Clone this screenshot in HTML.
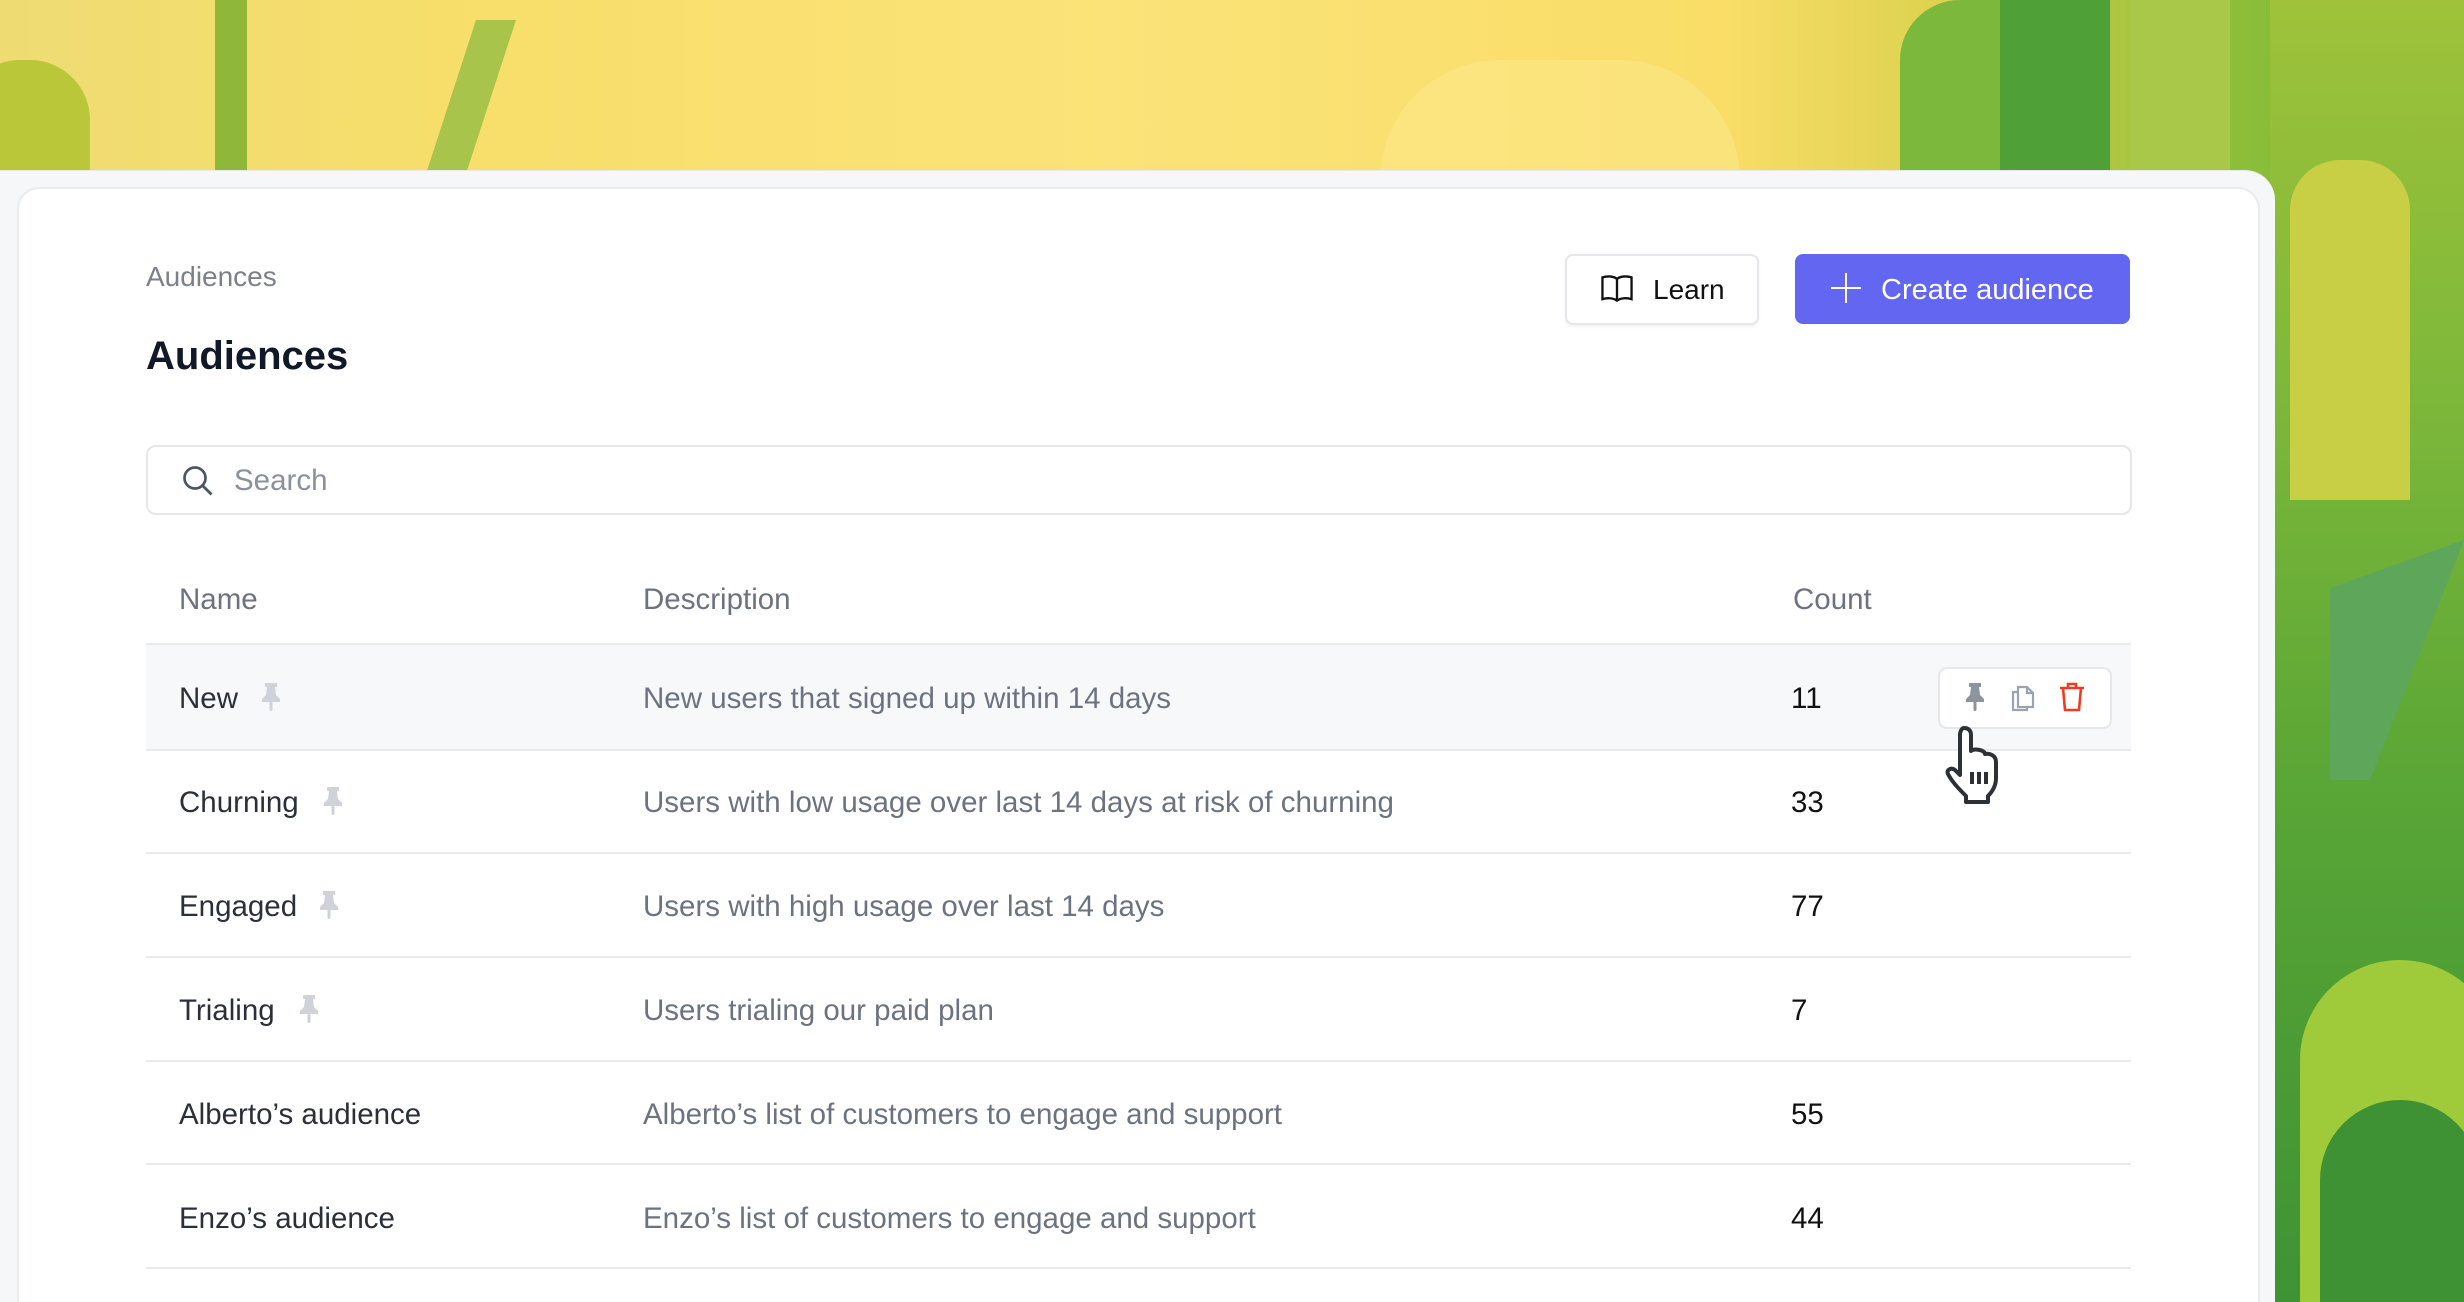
<!DOCTYPE html>
<html style="width:2464px;height:1302px;overflow:hidden"><head><meta charset="utf-8"><style>
*{margin:0;padding:0;box-sizing:border-box}
body{width:2464px;height:1302px;overflow:hidden;position:relative;font-family:"Liberation Sans",sans-serif;background:#f6f7f9}
.bg{position:absolute;left:0;top:0;width:2464px;height:1302px;background:linear-gradient(90deg,#eedc73 0%,#f8de6a 20%,#fbe379 45%,#f9dd67 70%,#d9d04c 80%,#8fbf3a 90%,#6fb53a 100%)}
.abs{position:absolute}
.t{position:absolute;font-size:29.5px;line-height:1;white-space:nowrap}
.row{position:absolute;left:146px;width:1985px;height:2px;background:#e8eaee}
.name{color:#2b2f38;left:179px}
.desc{color:#6b7280;left:643px}
.cnt{color:#111;left:1791px}
.pin{position:absolute;width:18px;height:28px}
</style></head><body>
<div class="bg"></div>
<div class="abs" style="left:-40px;top:60px;width:130px;height:260px;border-radius:60px 60px 0 0;background:#b9c738"></div>
<div class="abs" style="left:215px;top:0;width:32px;height:175px;background:#8fb83a"></div>
<div class="abs" style="left:450px;top:20px;width:40px;height:160px;background:#a9c44a;transform:skewX(-18deg)"></div>
<div class="abs" style="left:1380px;top:60px;width:360px;height:120px;border-radius:180px 180px 0 0;background:#fce685;opacity:.7"></div>
<div class="abs" style="left:1900px;top:0;width:200px;height:175px;background:#7bb83c;border-radius:60px 60px 0 0"></div>
<div class="abs" style="left:2000px;top:0;width:110px;height:175px;background:#4fa036"></div>
<div class="abs" style="left:2130px;top:0;width:100px;height:175px;background:#a9c84a"></div>
<div class="abs" style="left:2270px;top:0;width:194px;height:1302px;background:linear-gradient(180deg,#9fc23a 0%,#7eb83a 30%,#5aa636 60%,#3e9334 100%)"></div>
<div class="abs" style="left:2290px;top:160px;width:120px;height:340px;background:#c9cf45;border-radius:50px 50px 0 0"></div>
<div class="abs" style="left:2330px;top:540px;width:134px;height:240px;background:#5ea65a;clip-path:polygon(0 20%,100% 0,30% 100%,0 100%)"></div>
<div class="abs" style="left:2300px;top:960px;width:200px;height:342px;border-radius:100px 100px 0 0;background:#9fca3a"></div>
<div class="abs" style="left:2320px;top:1100px;width:160px;height:202px;border-radius:80px 80px 0 0;background:#3f9234"></div>
<div class="abs" style="left:0;top:170px;width:2275px;height:1132px;background:#f6f7f9;border-radius:0 30px 0 0;border-top:1px solid #e6e8ec"></div>
<div class="abs" style="left:17px;top:187px;width:2243px;height:1115px;background:#fff;border-radius:22px 22px 0 0;border:2px solid #e9ebef;border-bottom:none"></div>
<div class="t" style="left:146px;top:263px;color:#7b808a;font-size:28px">Audiences</div>
<div class="t" style="left:146px;top:336px;font-size:40px;font-weight:bold;color:#111827">Audiences</div>
<div class="abs" style="left:1565px;top:254px;width:194px;height:71px;border:2px solid #e5e7eb;border-radius:8px;background:#fff;box-shadow:0 2px 3px rgba(0,0,0,.05)"></div>
<svg class="abs" style="left:1599px;top:273px" width="36" height="32" viewBox="0 0 24 22" fill="none" stroke="#111" stroke-width="1.6"><path d="M12 4C9 2 5 2 2 3v15c3-1 7-1 10 1 3-2 7-2 10-1V3c-3-1-7-1-10 1z M12 4v15"/></svg>
<div class="t" style="left:1653px;top:276px;color:#111;font-size:28px">Learn</div>
<div class="abs" style="left:1795px;top:254px;width:335px;height:70px;border-radius:8px;background:#6366f1"></div>
<div class="abs" style="left:1831px;top:287px;width:30px;height:2px;background:#fff"></div>
<div class="abs" style="left:1845px;top:273px;width:2px;height:30px;background:#fff"></div>
<div class="t" style="left:1881px;top:276px;color:#fff;font-size:29px">Create audience</div>
<div class="abs" style="left:146px;top:445px;width:1986px;height:70px;border:2px solid #e5e7eb;border-radius:10px"></div>
<svg class="abs" style="left:180px;top:463px" width="36" height="36" viewBox="0 0 24 24" fill="none" stroke="#4b5563" stroke-width="1.8"><circle cx="10" cy="10" r="7"/><path d="M15 15l6 6"/></svg>
<div class="t" style="left:234px;top:466px;color:#8b909a">Search</div>
<div class="t" style="left:179px;top:585px;color:#6b7280">Name</div>
<div class="t" style="left:643px;top:585px;color:#6b7280">Description</div>
<div class="t" style="left:1793px;top:585px;color:#6b7280">Count</div>
<div class="abs" style="left:146px;top:645px;width:1985px;height:104px;background:#f7f8fa"></div>
<div class="row" style="top:643px"></div>
<div class="row" style="top:749px"></div>
<div class="row" style="top:852px"></div>
<div class="row" style="top:956px"></div>
<div class="row" style="top:1060px"></div>
<div class="row" style="top:1163px"></div>
<div class="row" style="top:1267px"></div>

<div class="t name" style="top:684px">New</div>
<div class="t desc" style="top:684px">New users that signed up within 14 days</div>
<div class="t cnt" style="top:684px">11</div>
<div class="t name" style="top:788px">Churning</div>
<div class="t desc" style="top:788px">Users with low usage over last 14 days at risk of churning</div>
<div class="t cnt" style="top:788px">33</div>
<div class="t name" style="top:892px">Engaged</div>
<div class="t desc" style="top:892px">Users with high usage over last 14 days</div>
<div class="t cnt" style="top:892px">77</div>
<div class="t name" style="top:996px">Trialing</div>
<div class="t desc" style="top:996px">Users trialing our paid plan</div>
<div class="t cnt" style="top:996px">7</div>
<div class="t name" style="top:1100px">Alberto’s audience</div>
<div class="t desc" style="top:1100px">Alberto’s list of customers to engage and support</div>
<div class="t cnt" style="top:1100px">55</div>
<div class="t name" style="top:1204px">Enzo’s audience</div>
<div class="t desc" style="top:1204px">Enzo’s list of customers to engage and support</div>
<div class="t cnt" style="top:1204px">44</div>

<svg width="0" height="0" style="position:absolute"><defs><symbol id="pin" viewBox="0 0 18 28"><path d="M3 0h12v4h-2l1 8 4 4v3H0v-3l4-4 1-8H3z"/><rect x="7.5" y="18" width="3" height="10" rx="1.5"/></symbol></defs></svg>
<svg class="pin" style="left:262px;top:683px;fill:#cfd3d9"><use href="#pin"/></svg>
<svg class="pin" style="left:324px;top:787px;fill:#cfd3d9"><use href="#pin"/></svg>
<svg class="pin" style="left:320px;top:891px;fill:#cfd3d9"><use href="#pin"/></svg>
<svg class="pin" style="left:300px;top:995px;fill:#cfd3d9"><use href="#pin"/></svg>

<div class="abs" style="left:1938px;top:667px;width:174px;height:62px;background:#fff;border:2px solid #e5e7eb;border-radius:9px"></div>
<svg class="pin" style="left:1966px;top:683px;fill:#8e949d"><use href="#pin"/></svg>
<svg class="abs" style="left:2010px;top:682px" width="26" height="30" viewBox="0 0 26 30" fill="none" stroke="#9ca3af" stroke-width="2.2"><path d="M8 5h9l6 6v14H8z M17 5v6h6 M8 10H3v18h14v-3"/></svg>
<svg class="abs" style="left:2058px;top:681px" width="28" height="32" viewBox="0 0 28 32" fill="none" stroke="#ef3b24" stroke-width="2.6"><path d="M2 7h24 M10 7V3h8v4 M5 7l2 22h14l2-22"/></svg>
<svg class="abs" style="left:1942px;top:722px" width="70" height="86" viewBox="0 0 70 86"><path d="M22 6c5 0 7 3 7 7v16c3-3 14-1 14 3 4-1 11 1 11 8v16c0 8-4 14-8 18v6H24v-6c-6-6-14-14-18-22-2-4 3-7 7-4l5 5V13c0-4 2-7 4-7z" fill="#fff" stroke="#2d3136" stroke-width="4" stroke-linejoin="round"/><path d="M30 50v12M37 50v12M44 50v12" stroke="#2d3136" stroke-width="4"/></svg>
</body></html>
